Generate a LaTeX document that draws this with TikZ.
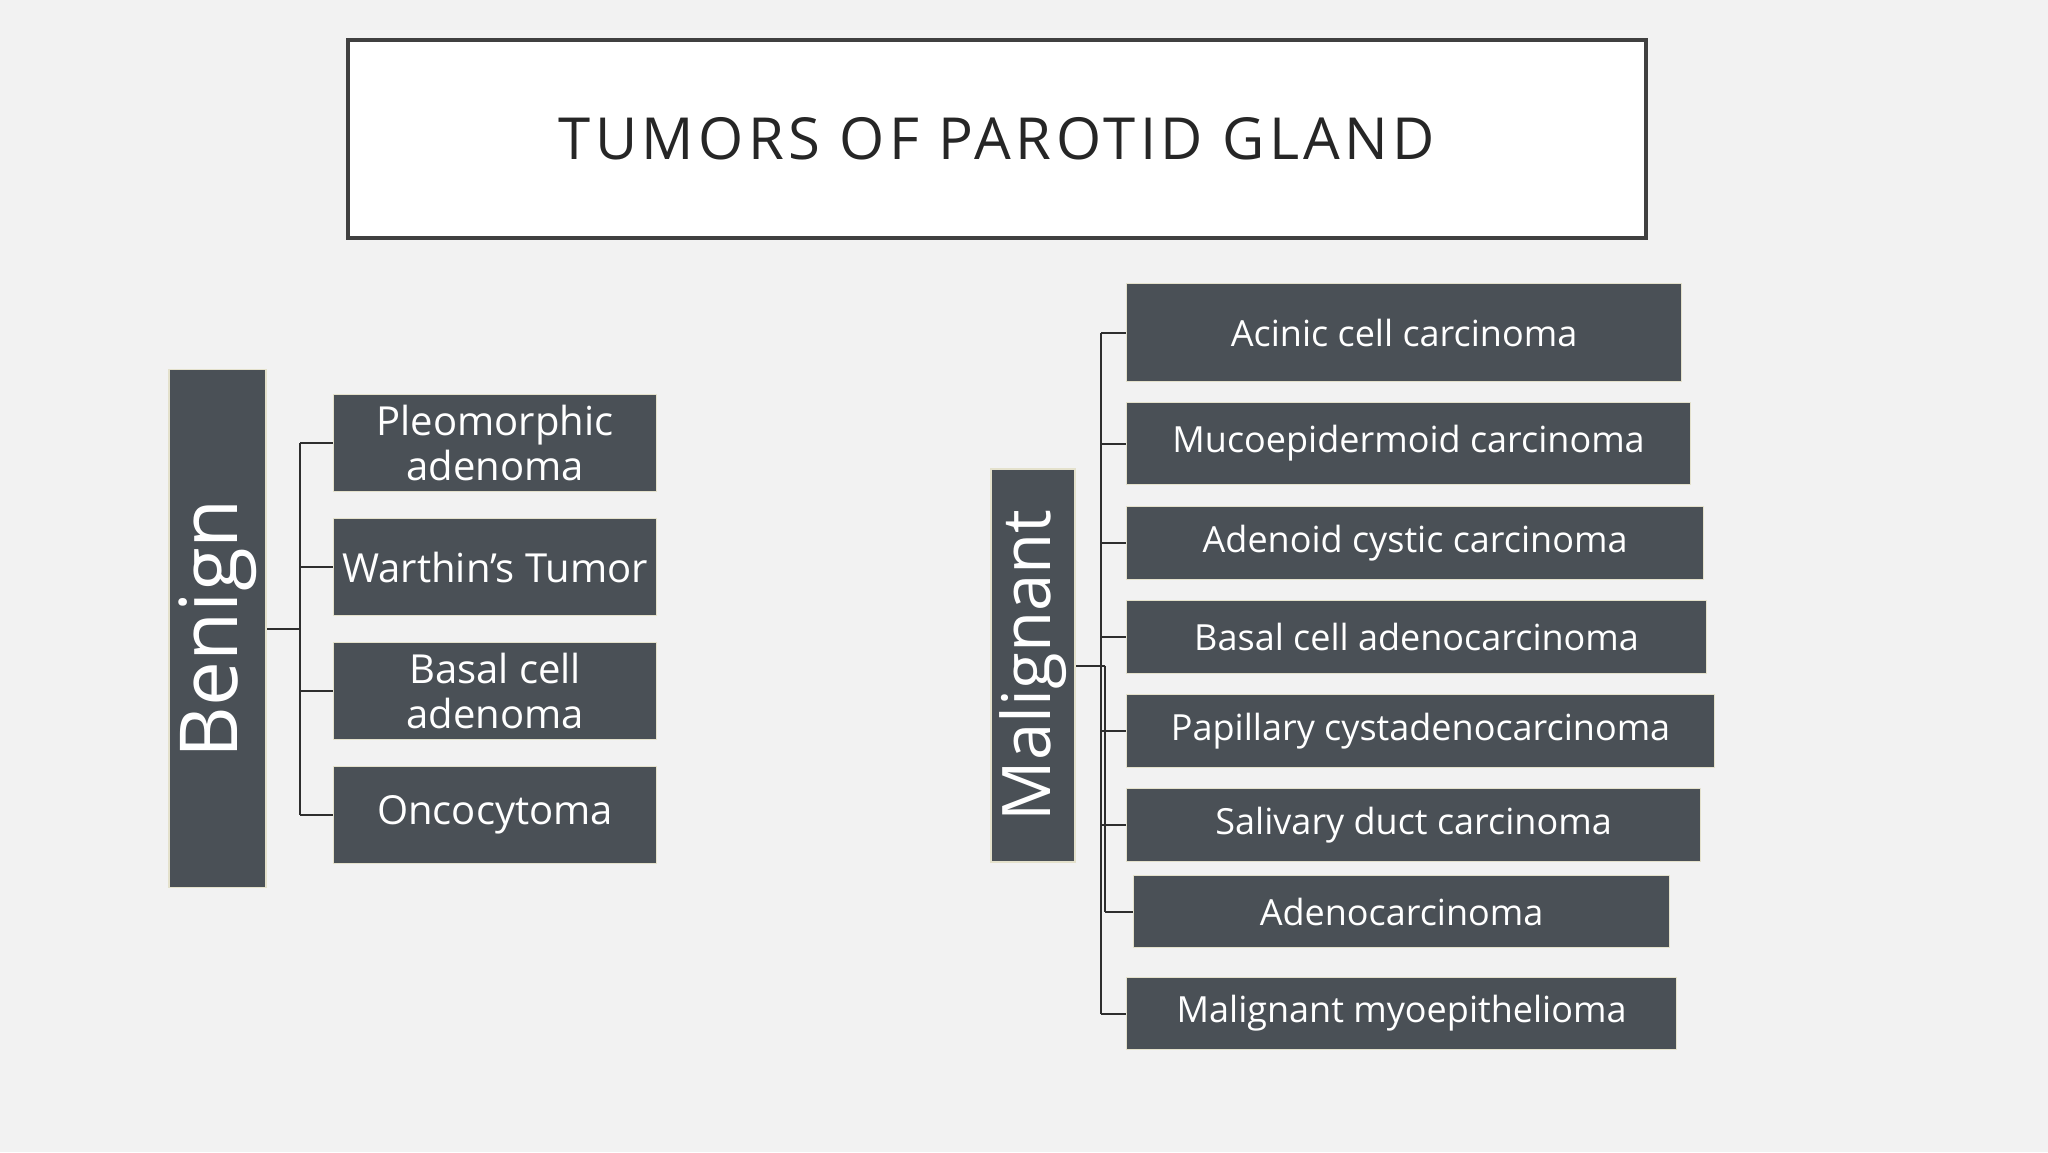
\documentclass[tikz,border=0pt]{standalone}
\usepackage{fontspec}
\setmainfont{Open Sans}
\newfontfamily\titlefont[LetterSpace=7.5]{Open Sans}
\definecolor{bg}{HTML}{F2F2F2}
\definecolor{boxfill}{HTML}{4A5056}
\definecolor{boxedge}{HTML}{E4E1CC}
\definecolor{titleedge}{HTML}{404040}
\definecolor{titletext}{HTML}{262626}
\definecolor{linec}{HTML}{2E2E2E}
\tikzset{
  catbox/.style={fill=boxfill, draw=boxedge, line width=1.2pt, text=white, inner sep=0pt, align=center},
  itembox/.style={fill=boxfill, draw=boxedge, line width=1.2pt, text=white, inner sep=0pt, align=center, anchor=north west},
  bitem/.style={itembox, minimum width=323, font=\fontsize{40}{45}\selectfont},
  mitem/.style={itembox, font=\fontsize{36}{40}\selectfont},
  conn/.style={draw=linec, line width=2pt}
}
\begin{document}
\begin{tikzpicture}[x=1pt,y=-1pt]
\fill[bg] (0,0) rectangle (2048,1152);
\useasboundingbox (0,0) rectangle (2048,1152);
% title
\node[draw=titleedge, line width=4pt, fill=white, minimum width=1298, minimum height=198, inner sep=0pt,
      text=titletext, font=\titlefont\fontsize{58}{60}\selectfont] (title) at (997,139) {TUMORS OF PAROTID GLAND};
% benign
\node[catbox, rotate=90, minimum width=518, minimum height=97, font=\fontsize{80}{90}\selectfont] (benign) at (217.5,628.5) {Benign};
\node[bitem, minimum height=97] (b1) at (333,394) {Pleomorphic\\adenoma};
\node[bitem, minimum height=97] (b2) at (333,518) {Warthin’s Tumor};
\node[bitem, minimum height=97] (b3) at (333,642) {Basal cell\\adenoma};
\node[bitem, minimum height=97] (b4) at (333,766) {Oncocytoma};
\coordinate (bt) at (300,628.5);
\draw[conn] (bt) -- (benign);
\draw[conn] (bt |- b1.west) -- (bt |- b4.west);
\foreach \n in {b1,b2,b3,b4} \draw[conn] (bt |- \n.west) -- (\n.west);
% malignant
\node[catbox, rotate=90, minimum width=393, minimum height=84, font=\fontsize{67}{76}\selectfont] (malig) at (1033,665.5) {Malignant};
\node[mitem, minimum width=555, minimum height=98] (m1) at (1126,283) {Acinic cell carcinoma};
\node[mitem, minimum width=564, minimum height=82] (m2) at (1126,402) {Mucoepidermoid carcinoma};
\node[mitem, minimum width=577, minimum height=73] (m3) at (1126,506) {Adenoid cystic carcinoma};
\node[mitem, minimum width=580, minimum height=73] (m4) at (1126,600) {Basal cell adenocarcinoma};
\node[mitem, minimum width=588, minimum height=73] (m5) at (1126,694) {Papillary cystadenocarcinoma};
\node[mitem, minimum width=574, minimum height=73] (m6) at (1126,788) {Salivary duct carcinoma};
\node[mitem, minimum width=536, minimum height=72] (m7) at (1133,875) {Adenocarcinoma};
\node[mitem, minimum width=550, minimum height=72] (m8) at (1126,977) {Malignant myoepithelioma};
\coordinate (mt) at (1101,665.5);
\coordinate (mt2) at (1105,665.5);
\draw[conn] (mt2) -- (malig);
\draw[conn] (mt |- m1.west) -- (mt |- m8.west);
\draw[conn] (mt2) -- (mt2 |- m7.west);
\foreach \n in {m1,m2,m3,m4,m5,m6,m8} \draw[conn] (mt |- \n.west) -- (\n.west);
\draw[conn] (mt2 |- m7.west) -- (m7.west);
\end{tikzpicture}
\end{document}
